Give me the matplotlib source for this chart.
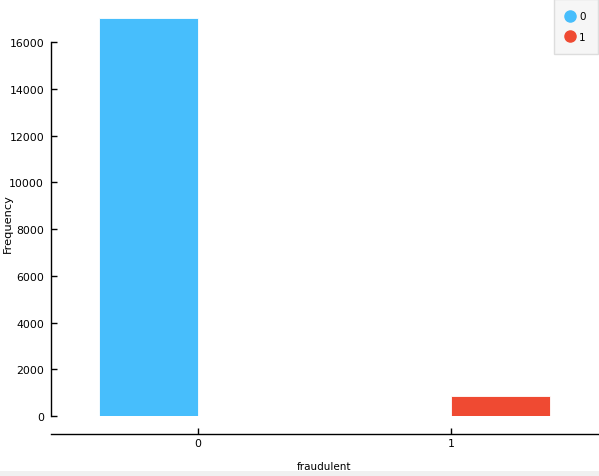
import matplotlib
matplotlib.use("Agg")
import matplotlib.pyplot as plt
from matplotlib.lines import Line2D
from matplotlib.patches import Rectangle

categories = [0, 1]
frequencies = [17030, 855]
colors = ["#47BEFC", "#EF4A32"]
yticks = [0, 2000, 4000, 6000, 8000, 10000, 12000, 14000, 16000]

W, H = 599, 477
fig = plt.figure(figsize=(W / 100, H / 100), dpi=100)
left, right = 51 / W, 598 / W
bottom = (H - 417) / H
top = (H - 19) / H
ax = fig.add_axes([left, bottom, right - left, top - bottom])

width = 0.39
# bar 0 ends at its tick, bar 1 starts at its tick (dodged hue layout)
offsets = [-width, 0.0]
for c, f, col, off in zip(categories, frequencies, colors, offsets):
    ax.bar(c + off, f, width=width, align="edge", color=col,
           edgecolor="#ffffff", linewidth=0.6, label=str(c))

ax.set_xlim(-0.581, 1.581)
ax.set_ylim(0, max(frequencies))

for s in ["top", "right"]:
    ax.spines[s].set_visible(False)
ax.spines["left"].set_bounds(0, 16000)
ax.spines["bottom"].set_position(("outward", 13))
for s in ["left", "bottom"]:
    ax.spines[s].set_linewidth(1.0)
    ax.spines[s].set_color("black")

ax.set_xticks(categories)
ax.set_xticklabels([str(c) for c in categories])
ax.set_yticks(yticks)
ax.set_yticklabels([str(v) for v in yticks])
ax.tick_params(axis="both", direction="in", length=4, width=1, labelsize=7.8,
               colors="black")
ax.tick_params(axis="x", pad=2.5)
ax.tick_params(axis="y", pad=5)

ax.set_xlabel("fraudulent", fontsize=7.5, labelpad=9.5)
ax.set_ylabel("Frequency", fontsize=8.2)
ax.yaxis.set_label_coords((13 - 51) / (598 - 51), (417 - 224) / (417 - 19))

handles = [Line2D([0], [0], marker="o", linestyle="", markersize=8,
                  markerfacecolor=col, markeredgecolor=col) for col in colors]
leg = fig.legend(handles, [str(c) for c in categories], loc="upper right",
                 bbox_to_anchor=(598 / W, 1.0), fontsize=7.5, frameon=True,
                 handletextpad=0.55, borderpad=1.2, labelspacing=1.0,
                 handlelength=0.6, fancybox=False, borderaxespad=0)
leg.get_frame().set_facecolor("#f4f4f4")
leg.get_frame().set_edgecolor("#d6d6d6")

fig.patches.append(Rectangle((0, 0), 1, 5 / H, transform=fig.transFigure,
                             facecolor="#f0f0f0", edgecolor="none", zorder=-1))

fig.savefig("out.png", dpi=100)
